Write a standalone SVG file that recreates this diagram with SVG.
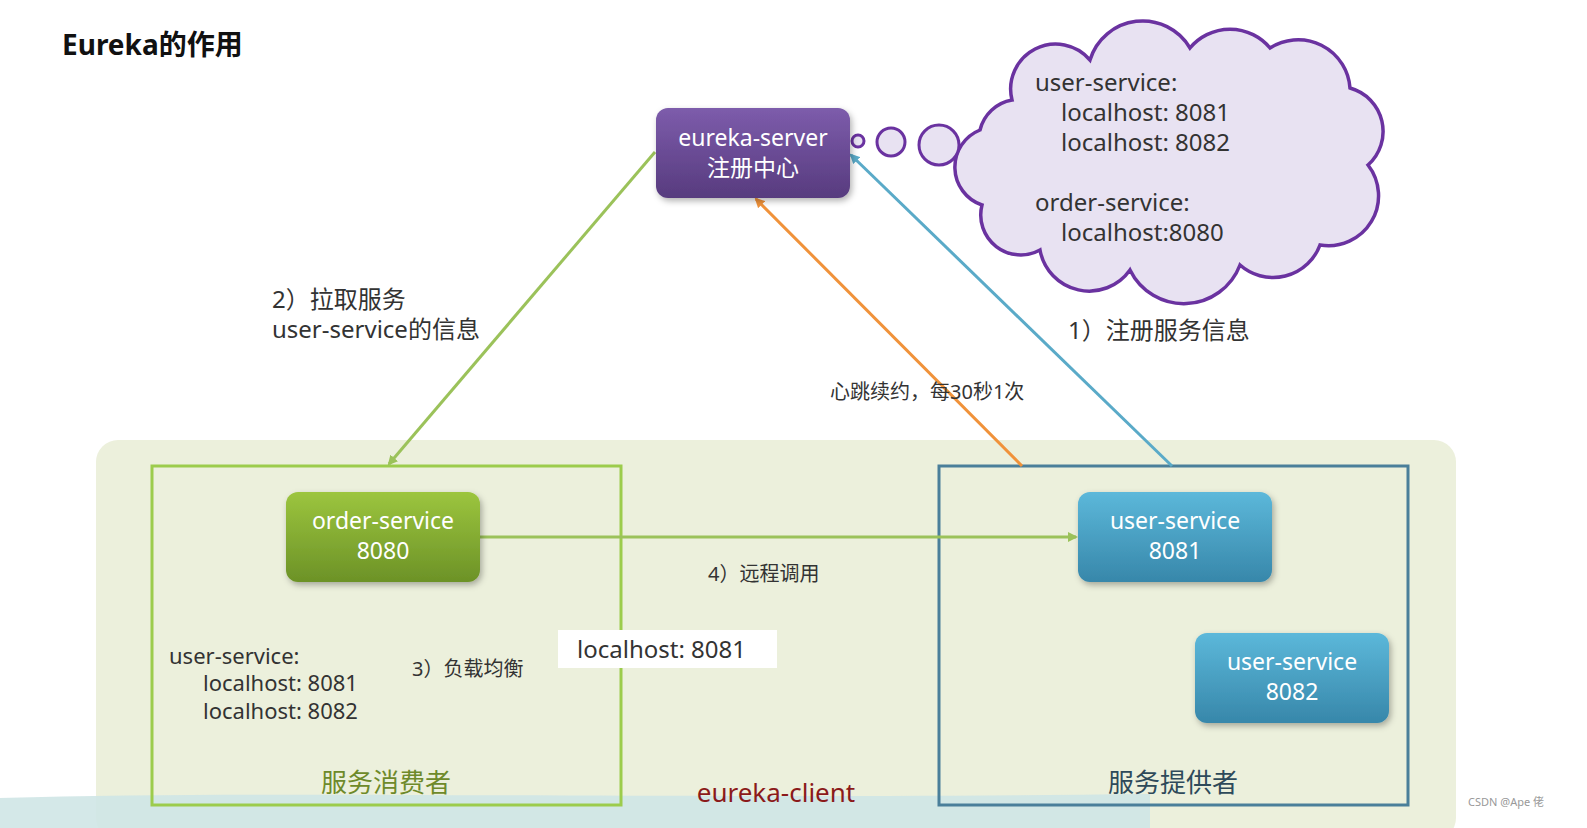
<svg xmlns="http://www.w3.org/2000/svg" width="1587" height="828" viewBox="0 0 1587 828">
<defs>
<linearGradient id="gp" x1="0" y1="0" x2="0" y2="1"><stop offset="0" stop-color="#7d5cab"/><stop offset="1" stop-color="#573b7e"/></linearGradient>
<linearGradient id="gg" x1="0" y1="0" x2="0" y2="1"><stop offset="0" stop-color="#9cc53e"/><stop offset="1" stop-color="#6c9227"/></linearGradient>
<linearGradient id="gb" x1="0" y1="0" x2="0" y2="1"><stop offset="0" stop-color="#5cb8da"/><stop offset="1" stop-color="#3787aa"/></linearGradient>
<filter id="sh" x="-10%" y="-10%" width="130%" height="130%"><feDropShadow dx="2" dy="3" stdDeviation="3" flood-opacity="0.3"/></filter>
<marker id="ag" markerWidth="10" markerHeight="10" refX="8" refY="5" orient="auto" markerUnits="userSpaceOnUse"><path d="M0,0 L10,5 L0,10 z" fill="#9bc25a"/></marker>
<marker id="ao" markerWidth="10" markerHeight="10" refX="8" refY="5" orient="auto" markerUnits="userSpaceOnUse"><path d="M0,0 L10,5 L0,10 z" fill="#f0923a"/></marker>
<marker id="ab" markerWidth="10" markerHeight="10" refX="8" refY="5" orient="auto" markerUnits="userSpaceOnUse"><path d="M0,0 L10,5 L0,10 z" fill="#5aaac8"/></marker>
</defs>
<style>
text{font-family:"Noto Sans","Noto Sans CJK SC",sans-serif}
.w{fill:#fff;font-size:23px;text-anchor:middle}
.d{fill:#333;font-size:24px}
.e{fill:#333;font-size:22px}
.s{fill:#333;font-size:20px}
</style>
<rect width="1587" height="828" fill="#fff"/>
<text x="62" y="55" font-size="28" font-weight="bold" fill="#111" font-family="'Noto Sans CJK SC',sans-serif">Eureka的作用</text>
<rect x="96" y="440" width="1360" height="400" rx="22" fill="#ecf0dc"/>
<path d="M0,798 C300,790 600,800 1150,794 L1150,828 L0,828 Z" fill="#cfe5e6" opacity="0.9"/>
<rect x="152" y="466" width="469" height="339" fill="none" stroke="#9ccc4c" stroke-width="3"/>
<rect x="939" y="466" width="469" height="339" fill="none" stroke="#4a7f9a" stroke-width="3"/>
<g id="cloud">
<path d="M1012,100 A45,45 0 0 1 1090,60 A55,55 0 0 1 1190,48 A52,52 0 0 1 1270,48 A52,52 0 0 1 1350,88 A45,45 0 0 1 1368,165 A50,50 0 0 1 1320,245 A50,50 0 0 1 1240,265 A60,60 0 0 1 1130,270 A50,50 0 0 1 1040,250 A40,40 0 0 1 982,205 A40,40 0 0 1 980,130 A40,40 0 0 1 1012,100 Z" fill="#e8e2f2" stroke="#6a32a0" stroke-width="3.5"/>
<circle cx="858" cy="141" r="6" fill="#e8e2f2" stroke="#6a32a0" stroke-width="3"/>
<circle cx="891" cy="142" r="14" fill="#e8e2f2" stroke="#6a32a0" stroke-width="3"/>
<circle cx="939" cy="145" r="20" fill="#e8e2f2" stroke="#6a32a0" stroke-width="3"/>
<text class="d" x="1035" y="91">user-service:</text>
<text class="d" x="1061" y="121">localhost: 8081</text>
<text class="d" x="1061" y="151">localhost: 8082</text>
<text class="d" x="1035" y="211">order-service:</text>
<text class="d" x="1061" y="241">localhost:8080</text>
</g>
<g id="connectors" stroke-width="3" fill="none">
<line x1="655" y1="152" x2="389" y2="464" stroke="#9bc25a" marker-end="url(#ag)"/>
<line x1="1022" y1="466" x2="756" y2="199" stroke="#f0923a" marker-end="url(#ao)"/>
<line x1="1172" y1="466" x2="851" y2="155" stroke="#5aaac8" marker-end="url(#ab)"/>
<line x1="480" y1="537" x2="1076" y2="537" stroke="#9bc25a" marker-end="url(#ag)"/>
</g>
<g id="labels">
<text class="d" x="272" y="308">2）拉取服务</text>
<text class="d" x="272" y="338">user-service的信息</text>
<text class="d" x="1068" y="339">1）注册服务信息</text>
<text class="s" x="830" y="399" font-size="22">心跳续约，每30秒1次</text>
<text class="s" x="708" y="581">4）远程调用</text>
<text class="s" x="412" y="676">3）负载均衡</text>
<text class="e" x="169" y="664">user-service:</text>
<text class="e" x="203" y="691">localhost: 8081</text>
<text class="e" x="203" y="719">localhost: 8082</text>
<rect x="558" y="630" width="219" height="38" fill="#fff"/>
<text class="d" x="577" y="658">localhost: 8081</text>
<text x="386" y="792" font-size="26" fill="#6e8a2a" text-anchor="middle">服务消费者</text>
<text x="1173" y="792" font-size="26" fill="#2e4a5a" text-anchor="middle">服务提供者</text>
<text x="776" y="802" font-size="26" fill="#8b1a1a" text-anchor="middle">eureka-client</text>
<text x="1468" y="806" font-size="11" fill="#999">CSDN @Ape 佬</text>
</g>
<g id="eureka-server"><rect x="656" y="108" width="194" height="90" rx="12" fill="url(#gp)" filter="url(#sh)"/>
<text class="w" x="753" y="146">eureka-server</text><text class="w" x="753" y="176">注册中心</text></g>
<g id="order-service"><rect x="286" y="492" width="194" height="90" rx="12" fill="url(#gg)" filter="url(#sh)"/>
<text class="w" x="383" y="529">order-service</text><text class="w" x="383" y="559">8080</text></g>
<g id="user-service-8081"><rect x="1078" y="492" width="194" height="90" rx="12" fill="url(#gb)" filter="url(#sh)"/>
<text class="w" x="1175" y="529">user-service</text><text class="w" x="1175" y="559">8081</text></g>
<g id="user-service-8082"><rect x="1195" y="633" width="194" height="90" rx="12" fill="url(#gb)" filter="url(#sh)"/>
<text class="w" x="1292" y="670">user-service</text><text class="w" x="1292" y="700">8082</text></g>
</svg>
